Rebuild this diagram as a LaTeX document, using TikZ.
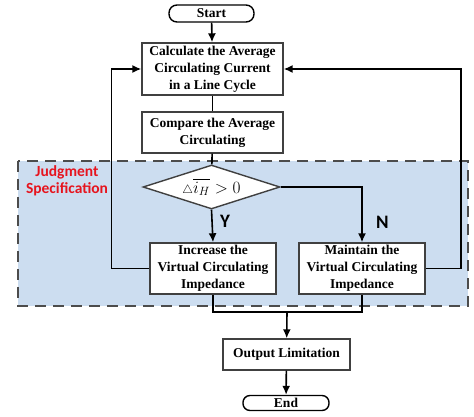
\documentclass[tikz,border=0pt]{standalone}
\usepackage{amsmath}
\usepackage{amssymb}
\usepackage{fontspec}
\setmainfont{Liberation Serif}
\newfontfamily\labelfont{Carlito}
\usetikzlibrary{calc,shapes.geometric,arrows.meta}
\definecolor{judgeblue}{RGB}{204,221,240}
\definecolor{judgered}{RGB}{230,20,30}
\tikzset{
  procbox/.style={draw=black!75,line width=1.4pt,fill=white,inner sep=0pt,align=center,
    font=\bfseries\fontsize{13.5}{17}\selectfont},
  termbox/.style={draw=black,line width=1.4pt,fill=white,rounded corners=8pt,inner sep=0pt,
    font=\bfseries\fontsize{13.5}{16}\selectfont},
  flow/.style={line width=1.6pt},
  yn/.style={font=\labelfont\bfseries\fontsize{19}{22}\selectfont}
}

\begin{document}
\begin{tikzpicture}[x=1pt,y=-1pt,>={Latex[length=9pt,width=8pt]}]
\useasboundingbox (0,0) rectangle (474,417);
% judgment region
\draw[fill=judgeblue,draw=black!70,line width=1.8pt,dash pattern=on 11pt off 7pt] (18,161) rectangle (468,306);
\node[align=center,text=judgered,font=\labelfont\bfseries\fontsize{15.5}{17}\selectfont] (judge) at (67,181) {Judgment\\Specification};
% blocks
\node[termbox,minimum width=85pt,minimum height=17pt] (start) at (211.5,13.5) {Start};
\node[procbox,minimum width=141pt,minimum height=52pt] (calc) at (212.5,69) {Calculate the Average\\Circulating Current\\in a Line Cycle};
\node[procbox,minimum width=141pt,minimum height=41pt] (comp) at (212.5,132.5) {Compare the Average\\Circulating};
\node[draw=black!75,line width=1.4pt,fill=white,diamond,aspect=3.1,inner sep=0pt,minimum width=137pt,minimum height=44pt,font=\fontsize{17}{20}\selectfont] (cond) at (211.5,187) {${\scriptstyle\triangle}\overline{i_H} > 0$};
\node[procbox,minimum width=126pt,minimum height=51pt] (inc) at (213,268.5) {Increase the\\Virtual Circulating\\Impedance};
\node[procbox,minimum width=126pt,minimum height=51pt] (keep) at (362,268.5) {Maintain the\\Virtual Circulating\\Impedance};
\node[procbox,minimum width=127pt,minimum height=31pt] (out) at (286.5,354.5) {Output Limitation};
\node[termbox,minimum width=86pt,minimum height=15pt,rounded corners=7pt] (end) at (286,403) {End};
\coordinate (merge) at (287,312);
% connectors
\draw[flow,->] (start) -- (calc);
\draw[flow] (calc) -- (comp);
\draw[flow] (comp) -- (cond);
\draw[flow,->] (cond.south) -- node[pos=0.35,right=4pt,yn] {Y} (inc.north);
\draw[flow,->] (cond.east) -| node[pos=0.82,right=10pt,yn] {N} (keep.north);
\draw[flow,->] (inc.west) -- ++(-38,0) |- (calc.west);
\draw[flow,->] (keep.east) -- ++(35,0) |- (calc.east);
\draw[flow] (inc.south) |- (merge) -| (keep.south);
\draw[flow,->] (merge) -- (out);
\draw[flow,->] (out) -- (end);
\end{tikzpicture}
\end{document}
